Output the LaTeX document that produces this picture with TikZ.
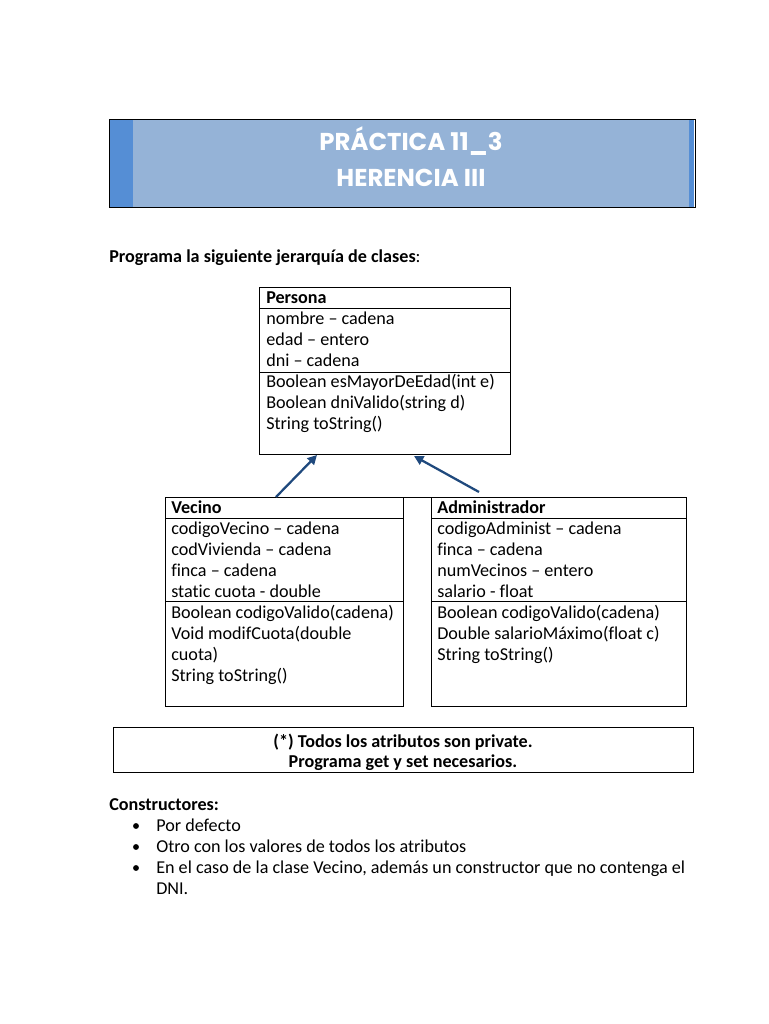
\documentclass[tikz,border=0pt]{standalone}
\usepackage{fontspec}
\setmainfont{Carlito}[Ligatures=NoCommon]
\newfontfamily\headfont{Poppins}
\usetikzlibrary{arrows.meta}
\definecolor{hdrmain}{RGB}{149,179,215}
\definecolor{hdrstrip}{RGB}{85,142,213}
\definecolor{arrblue}{RGB}{31,73,125}
\begin{document}
\begin{tikzpicture}[x=0.75pt,y=-0.75pt,
  box/.style={draw=black,line width=0.6pt},
  txt/.style={anchor=base west,inner sep=0pt,font=\fontsize{13.6}{15}\selectfont},
  btxt/.style={txt,font=\fontsize{13.6}{15}\selectfont\bfseries},
  ctxt/.style={anchor=base,inner sep=0pt,font=\fontsize{13.6}{15}\selectfont\bfseries},
  htxt/.style={anchor=base,inner sep=0pt,text=white,font=\fontsize{18.3}{20}\selectfont\headfont\bfseries},
  inh/.style={draw=arrblue,line width=1.7pt,-{Triangle[length=7pt,width=7pt]}},
  bul/.style={circle,fill=black,inner sep=0pt,minimum size=4.4pt}]
\useasboundingbox (0,0) rectangle (768,1024);
% header
\fill[hdrmain] (110,120) rectangle (694,207);
\fill[hdrstrip] (110,120) rectangle (133,207);
\fill[hdrstrip] (689,120) rectangle (694,207);
\node[box,anchor=north west,minimum width=586*0.75pt,minimum height=88*0.75pt,inner sep=0pt] (hdr) at (109,119) {};
\node[htxt] (t1) at (411,150) {PRÁCTICA 11\_3};
\node[htxt] (t2) at (411,186) {HERENCIA III};
% intro
\node[txt] (intro) at (109,262) {\textbf{Programa la siguiente jerarquía de clases}:};
% Persona
\node[box,anchor=north west,minimum width=251*0.75pt,minimum height=21*0.75pt,inner sep=0pt] (ph) at (259,287) {};
\node[box,anchor=north west,minimum width=251*0.75pt,minimum height=64*0.75pt,inner sep=0pt] (pa) at (259,308) {};
\node[box,anchor=north west,minimum width=251*0.75pt,minimum height=82*0.75pt,inner sep=0pt] (pm) at (259,372) {};
\node[btxt] (pname) at (266,303) {Persona};
\foreach \t [count=\i from 0] in {nombre – cadena,edad – entero,dni – cadena}
  \node[txt] (pat\i) at (266,324+21*\i) {\t};
\foreach \t [count=\i from 0] in {Boolean esMayorDeEdad(int e),Boolean dniValido(string d),String toString()}
  \node[txt] (pmt\i) at (266,387+21*\i) {\t};
% Vecino
\draw[line width=0.6pt] (165,497) -- (431,497);
\node[box,anchor=north west,minimum width=238*0.75pt,minimum height=21*0.75pt,inner sep=0pt] (vh) at (165,497) {};
\node[box,anchor=north west,minimum width=238*0.75pt,minimum height=83*0.75pt,inner sep=0pt] (va) at (165,518) {};
\node[box,anchor=north west,minimum width=238*0.75pt,minimum height=105*0.75pt,inner sep=0pt] (vm) at (165,601) {};
\node[btxt] (vname) at (171,513) {Vecino};
\foreach \t [count=\i from 0] in {codigoVecino – cadena,codVivienda – cadena,finca – cadena,static cuota - double}
  \node[txt] (vat\i) at (171,534+21*\i) {\t};
\foreach \t [count=\i from 0] in {Boolean codigoValido(cadena),Void modifCuota(double,cuota),String toString()}
  \node[txt] (vmt\i) at (171,618+21*\i) {\t};
% Administrador
\node[box,anchor=north west,minimum width=255*0.75pt,minimum height=21*0.75pt,inner sep=0pt] (ah) at (431,497) {};
\node[box,anchor=north west,minimum width=255*0.75pt,minimum height=83*0.75pt,inner sep=0pt] (aa) at (431,518) {};
\node[box,anchor=north west,minimum width=255*0.75pt,minimum height=105*0.75pt,inner sep=0pt] (am) at (431,601) {};
\node[btxt] (aname) at (437,513) {Administrador};
\foreach \t [count=\i from 0] in {codigoAdminist – cadena,finca – cadena,numVecinos – entero,salario - float}
  \node[txt] (aat\i) at (437,534+21*\i) {\t};
\foreach \t [count=\i from 0] in {Boolean codigoValido(cadena),Double salarioMáximo(float c),String toString()}
  \node[txt] (amt\i) at (437,618+21*\i) {\t};
% inheritance arrows
\coordinate (v1) at (276,497);
\coordinate (p1) at (317,455);
\coordinate (a1) at (479,492);
\coordinate (p2) at (414,456);
\draw[inh] (v1) -- (p1);
\draw[inh] (a1) -- (p2);
% note
\node[box,anchor=north west,minimum width=580*0.75pt,minimum height=45*0.75pt,inner sep=0pt] (note) at (113,727) {};
\node[ctxt] (n1) at (403,747) {(*) Todos los atributos son private.};
\node[ctxt] (n2) at (403,767) {Programa get y set necesarios.};
% constructores
\node[btxt] (cons) at (109,810) {Constructores:};
\node[bul] (b1) at (136,826) {};
\node[bul] (b2) at (136,847) {};
\node[bul] (b3) at (136,868) {};
\node[txt] (c1) at (156,831) {Por defecto};
\node[txt] (c2) at (156,852) {Otro con los valores de todos los atributos};
\node[txt] (c3) at (156,873) {En el caso de la clase Vecino, además un constructor que no contenga el};
\node[txt] (c4) at (156,894) {DNI.};
\end{tikzpicture}
\end{document}
